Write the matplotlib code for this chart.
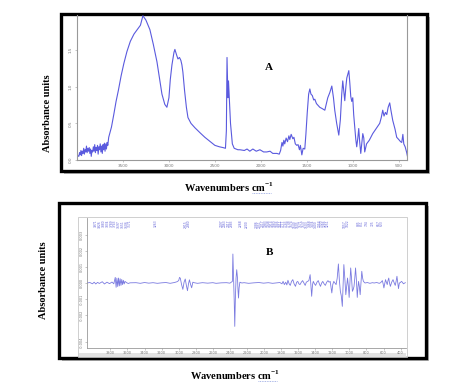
import matplotlib
matplotlib.use("Agg")
import matplotlib.pyplot as plt
from matplotlib.patches import Rectangle
from matplotlib.lines import Line2D

plt.rcParams['mathtext.fontset'] = 'custom'
plt.rcParams['mathtext.rm'] = 'Liberation Serif:bold'
plt.rcParams['mathtext.bf'] = 'Liberation Serif:bold'

# ---- panel A: absorbance spectrum (wavenumber, absorbance) ----
wn_a = [4000, 3990, 3980, 3972, 3965, 3957, 3950, 3942, 3935, 3927, 3920, 3912, 3905, 3897,
        3890, 3882, 3875, 3867, 3860, 3852, 3845, 3837, 3830, 3822, 3815, 3807, 3800, 3792,
        3785, 3777, 3770, 3762, 3755, 3747, 3740, 3732, 3725, 3717, 3710, 3702, 3695, 3687,
        3680, 3672, 3665, 3655, 3640, 3625, 3600, 3575, 3550, 3520, 3490, 3457, 3420, 3380,
        3340, 3310, 3283, 3250, 3207, 3170, 3130, 3100, 3076, 3045, 3022, 3000, 2985, 2967,
        2945, 2935, 2918, 2902, 2885, 2870, 2859, 2848, 2830, 2810, 2793, 2760, 2717, 2660,
        2609, 2550, 2500, 2450, 2413, 2385, 2375, 2368, 2362, 2358, 2352, 2345, 2330, 2310,
        2290, 2250, 2228, 2180, 2150, 2120, 2087, 2050, 2010, 1970, 1935, 1900, 1870, 1826,
        1800, 1785, 1770, 1760, 1750, 1740, 1725, 1710, 1695, 1685, 1670, 1652, 1640, 1625,
        1609, 1595, 1580, 1570, 1554, 1540, 1522, 1510, 1495, 1480, 1467, 1455, 1440, 1425,
        1413, 1395, 1380, 1359, 1330, 1304, 1285, 1272, 1250, 1228, 1210, 1196, 1175, 1152,
        1135, 1120, 1109, 1098, 1087, 1075, 1065, 1050, 1043, 1032, 1022, 1011, 1000, 990,
        978, 967, 957, 945, 935, 925, 913, 902, 891, 880, 870, 850, 820, 783, 750, 707, 690,
        674, 660, 645, 630, 615, 598, 585, 565, 540, 522, 500, 480, 467, 455, 445, 430, 413, 405]
abs_a = [0.03, 0.06, 0.05, 0.10, 0.07, 0.13, 0.06, 0.12, 0.09, 0.16, 0.08, 0.14, 0.11, 0.19,
         0.10, 0.16, 0.12, 0.17, 0.09, 0.15, 0.05, 0.13, 0.11, 0.18, 0.12, 0.21, 0.10, 0.17,
         0.13, 0.20, 0.08, 0.18, 0.14, 0.22, 0.11, 0.19, 0.09, 0.21, 0.14, 0.23, 0.12, 0.22,
         0.15, 0.24, 0.20, 0.31, 0.38, 0.45, 0.62, 0.80, 0.95, 1.15, 1.32, 1.48, 1.62, 1.72,
         1.79, 1.84, 1.97, 1.91, 1.78, 1.58, 1.34, 1.10, 0.90, 0.76, 0.72, 0.85, 1.10, 1.30,
         1.47, 1.51, 1.44, 1.38, 1.40, 1.36, 1.30, 1.20, 0.95, 0.72, 0.58, 0.50, 0.44, 0.37,
         0.31, 0.25, 0.20, 0.18, 0.17, 0.16, 0.40, 1.40, 1.10, 0.85, 1.08, 0.90, 0.50, 0.22,
         0.16, 0.14, 0.14, 0.13, 0.15, 0.12, 0.15, 0.12, 0.14, 0.11, 0.11, 0.12, 0.09, 0.09,
         0.08, 0.13, 0.24, 0.19, 0.27, 0.22, 0.30, 0.25, 0.33, 0.28, 0.35, 0.29, 0.31, 0.22,
         0.20, 0.21, 0.14, 0.20, 0.07, 0.16, 0.15, 0.35, 0.65, 0.90, 0.97, 0.90, 0.88, 0.82,
         0.83, 0.77, 0.75, 0.72, 0.70, 0.68, 0.78, 0.85, 0.92, 1.01, 0.85, 0.68, 0.50, 0.34,
         0.55, 0.90, 1.08, 0.95, 0.81, 1.00, 1.12, 1.19, 1.22, 1.05, 0.87, 0.80, 0.85, 0.62,
         0.45, 0.28, 0.18, 0.30, 0.43, 0.25, 0.09, 0.22, 0.36, 0.30, 0.11, 0.22, 0.27, 0.36,
         0.42, 0.50, 0.58, 0.68, 0.60, 0.65, 0.62, 0.72, 0.78, 0.68, 0.54, 0.42, 0.31, 0.28,
         0.25, 0.24, 0.35, 0.22, 0.18, 0.10, 0.05]
xticks_a = [3500, 3000, 2500, 2000, 1500, 1000, 500]
yticks_a = [0.0, 0.5, 1.0, 1.5]

# ---- panel B: derivative spectrum (values in units of 0.001) ----
wn_b = [4074, 4040, 4010, 3990, 3971, 3950, 3930, 3895, 3870, 3840, 3810, 3781, 3760, 3743,
        3733, 3724, 3714, 3705, 3695, 3686, 3676, 3667, 3657, 3648, 3638, 3629, 3610, 3590,
        3571, 3500, 3450, 3400, 3350, 3300, 3250, 3200, 3150, 3100, 3050, 3019, 3000, 2990,
        2981, 2966, 2951, 2937, 2923, 2910, 2897, 2885, 2874, 2860, 2848, 2834, 2820, 2780,
        2720, 2660, 2600, 2562, 2500, 2440, 2400, 2385, 2371, 2365, 2358, 2350, 2343, 2336,
        2328, 2320, 2311, 2305, 2299, 2292, 2283, 2260, 2234, 2180, 2120, 2060, 2006, 1950,
        1900, 1850, 1815, 1790, 1777, 1762, 1746, 1733, 1720, 1706, 1693, 1678, 1663, 1648,
        1632, 1618, 1605, 1592, 1579, 1563, 1548, 1533, 1518, 1505, 1491, 1475, 1460, 1451,
        1442, 1432, 1423, 1410, 1396, 1380, 1365, 1352, 1339, 1325, 1312, 1297, 1282, 1266,
        1251, 1238, 1225, 1206, 1195, 1183, 1170, 1156, 1143, 1129, 1118, 1106, 1095, 1083,
        1074, 1065, 1055, 1042, 1032, 1022, 1012, 1003, 994, 985, 975, 965, 955, 946, 937,
        928, 918, 908, 900, 893, 884, 874, 865, 855, 845, 836, 817, 790, 760, 730, 710, 680,
        650, 634, 614, 605, 596, 587, 577, 567, 557, 548, 539, 530, 520, 505, 489, 475, 463,
        453, 443, 434, 425, 415, 405, 390, 380, 367, 345]
val_b = [0.0, 0.03, -0.05, 0.05, -0.06, 0.04, -0.03, 0.08, -0.06, 0.05, -0.04, 0.06, -0.05, 0.35,
         -0.27, 0.30, -0.22, 0.31, -0.18, 0.27, -0.15, 0.22, -0.10, 0.17, -0.06, 0.10, 0.02, -0.03,
         0.01, 0.02, -0.02, 0.03, -0.01, 0.02, -0.02, 0.01, 0.03, -0.02, 0.03, 0.08, 0.15, 0.35,
         0.30, -0.10, -0.40, 0.05, 0.25, -0.15, -0.48, -0.05, 0.20, -0.10, -0.30, 0.05, 0.02, -0.02,
         0.02, -0.01, 0.02, -0.02, 0.01, 0.02, -0.01, 0.05, 0.10, 1.81, 0.60, -1.00, -2.71, -1.00,
         0.30, 0.83, 0.30, -0.45, -0.94, -0.30, 0.05, 0.00, 0.02, -0.02, 0.01, 0.03, -0.01, 0.02,
         -0.02, 0.01, 0.03, -0.05, 0.10, -0.10, 0.05, -0.12, 0.17, -0.05, -0.15, 0.10, 0.21, -0.05,
         -0.21, 0.05, 0.10, -0.05, -0.10, 0.05, 0.15, 0.00, -0.15, 0.05, 0.10, 0.15, 0.52, -0.20,
         -0.83, -0.10, 0.10, -0.05, -0.15, 0.05, 0.15, -0.05, -0.21, 0.00, 0.10, -0.05, -0.15, 0.05,
         0.15, 0.05, 0.10, -0.62, -0.10, 0.10, 0.00, -0.10, 0.30, 1.19, 0.20, -0.52, -0.80, -1.46,
         -0.20, 1.15, 0.40, -0.73, -0.20, 0.31, -0.20, -0.90, 0.00, 0.94, 0.30, -0.52, -0.40, -0.21, 0.30,
         0.94, 0.20, -0.90, -0.30, 0.10, -0.20, -0.73, 0.00, 0.73, 0.30, 0.10, 0.00, 0.03, -0.02, 0.02, 0.00, 0.03,
         -0.02, 0.02, 0.15, -0.05, -0.31, -0.05, 0.21, 0.05, -0.10, 0.15, 0.31, 0.00, -0.21, 0.05, 0.21, 0.00, -0.15,
         0.10, 0.42, 0.05, -0.35, 0.00, 0.02, 0.10, 0.05, -0.05, 0.02]
xticks_b = [3800, 3600, 3400, 3200, 3000, 2800, 2600, 2400, 2200, 2000, 1800, 1600, 1400,
            1200, 1000, 800, 600, 400]
yticks_b = [3, 2, 1, 0, -1, -2, -3.7]
ytick_labels_b = ["0.003", "0.002", "0.001", "0.000", "-0.001", "-0.002", "-0.004"]
peak_marks_b = [3971, 3926, 3880, 3834, 3789, 3743, 3697, 3651, 3606, 3571, 3263, 2915, 2880,
                2497, 2463, 2417, 2383, 2268, 2200, 2086, 2051, 2017, 1983, 1948, 1914, 1880,
                1846, 1811, 1777, 1743, 1708, 1674, 1640, 1605, 1571, 1537, 1503, 1468, 1434,
                1400, 1354, 1320, 1286, 1251, 1057, 1022, 885, 851, 794, 725, 657, 623]

W, H = 474, 387
fig = plt.figure(figsize=(W / 100, H / 100), dpi=100)
fig.patch.set_facecolor('white')


def fx(px):
    return px / W


def fy(py):
    return 1 - py / H


def frame(x0, y0, x1, y1):
    # drop shadow then thick black frame
    fig.patches.append(Rectangle((fx(x0 + 3), fy(y1 + 3)), fx(x1 - x0), (y1 - y0) / H,
                                 transform=fig.transFigure, facecolor='#b8b8b8',
                                 edgecolor='none', zorder=0))
    fig.patches.append(Rectangle((fx(x0), fy(y1)), fx(x1 - x0), (y1 - y0) / H,
                                 transform=fig.transFigure, facecolor='white',
                                 edgecolor='black', linewidth=2.4, zorder=0.5))


def xlabel(cx, cy, ux0, ux1, uy):
    fig.text(fx(cx), fy(cy), r'Wavenumbers cm$^{-1}$', fontsize=7.5, ha='center', va='center', **serif)
    # faint dotted link underline under "cm-1"
    fig.lines.append(Line2D([fx(ux0), fx(ux1)], [fy(uy), fy(uy)], transform=fig.transFigure,
                            color='#8fa0e0', lw=0.6, ls=(0, (1, 1))))


serif = dict(family='Liberation Serif', weight='bold', color='black')
tickfont = dict(color='#777777')

# ---------------- panel A ----------------
frame(61, 14, 427, 171)
axA = fig.add_axes([fx(77), fy(160), fx(407 - 77), (160 - 15) / H])
axA.set_zorder(2)
axA.set_facecolor('none')
axA.plot(wn_a, abs_a, color='#5a5ade', lw=0.8)
axA.set_xlim(4000, 410)
axA.set_ylim(0, 1.98)
axA.set_xticks(xticks_a)
axA.set_xticklabels([str(v) for v in xticks_a], fontsize=3, **tickfont)
axA.set_yticks(yticks_a)
axA.set_yticklabels([f"{v:.1f}" for v in yticks_a], fontsize=3, rotation=90, va='center', **tickfont)
axA.tick_params(length=1.5, width=0.4, color='#999999', pad=1.5)
for s in ['left', 'bottom', 'right']:
    axA.spines[s].set_color('#999999')
    axA.spines[s].set_linewidth(0.8)
axA.spines['top'].set_visible(False)
fig.text(fx(269), fy(67), 'A', fontsize=8, ha='center', va='center', zorder=3, **serif)
xlabel(229, 187, 252, 271, 193)
fig.text(fx(47), fy(113), 'Absorbance units', fontsize=7.5, rotation=90, ha='center', va='center', **serif)

# ---------------- panel B ----------------
frame(59, 203, 426, 358)
fig.patches.append(Rectangle((fx(78), fy(357)), fx(407 - 78), (357 - 217) / H,
                             transform=fig.transFigure, facecolor='none',
                             edgecolor='#c8c8c8', linewidth=0.6, zorder=0.6))
fig.patches.append(Rectangle((fx(79), fy(357)), fx(406 - 79), 4 / H,
                             transform=fig.transFigure, facecolor='#e2e2e2',
                             edgecolor='none', zorder=0.6))
axB = fig.add_axes([fx(87), fy(348), fx(406 - 87), (348 - 218) / H])
axB.set_zorder(2)
axB.set_facecolor('none')
axB.plot(wn_b, val_b, color='#7a7ae0', lw=0.6)
axB.set_xlim(4074, 337)
axB.set_ylim(-4.06, 4.06)
axB.set_xticks(xticks_b)
axB.set_xticklabels([str(v) for v in xticks_b], fontsize=2.5, **tickfont)
axB.set_yticks(yticks_b)
axB.set_yticklabels(ytick_labels_b, fontsize=2.5, rotation=90, va='center', **tickfont)
axB.tick_params(length=1.2, width=0.4, color='#999999', pad=1)
for s in ['left', 'bottom']:
    axB.spines[s].set_color('#999999')
    axB.spines[s].set_linewidth(0.6)
for s in ['top', 'right']:
    axB.spines[s].set_visible(False)
for w in peak_marks_b:
    axB.text(w, 3.95, str(w), fontsize=2.2, rotation=90, ha='center', va='top', color='#6464d8')
fig.text(fx(270), fy(252), 'B', fontsize=8, ha='center', va='center', zorder=3, **serif)
xlabel(235, 375, 258, 277, 381)
fig.text(fx(43), fy(280), 'Absorbance units', fontsize=7.5, rotation=90, ha='center', va='center', **serif)

fig.savefig('out.png', dpi=100, facecolor='white')
